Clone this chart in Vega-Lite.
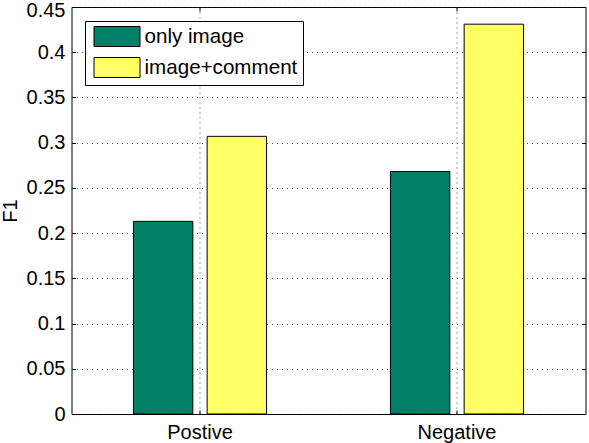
{
  "$schema": "https://vega.github.io/schema/vega-lite/v6.json",
  "width": 514,
  "height": 407,
  "autosize": "none",
  "padding": {"left": 71.5, "top": 7, "right": 3.5, "bottom": 29},
  "background": "white",
  "config": {
    "font": "Liberation Sans",
    "view": {"stroke": "black", "strokeWidth": 1},
    "axis": {
      "domain": false,
      "labelFont": "Liberation Sans",
      "labelFontSize": 20,
      "labelColor": "black",
      "titleFont": "Liberation Sans",
      "titleFontSize": 20,
      "titleFontWeight": "normal",
      "titleColor": "black",
      "tickColor": "black",
      "tickSize": -4,
      "gridColor": "#222",
      "gridDash": [1, 4],
      "gridOpacity": 0.8,
      "gridWidth": 1
    }
  },
  "data": {
    "values": [
      {"group": "Postive", "series": "only image", "F1": 0.213},
      {"group": "Postive", "series": "image+comment", "F1": 0.307},
      {"group": "Negative", "series": "only image", "F1": 0.268},
      {"group": "Negative", "series": "image+comment", "F1": 0.431}
    ]
  },
  "encoding": {
    "x": {
      "field": "group",
      "type": "nominal",
      "sort": ["Postive", "Negative"],
      "scale": {"paddingInner": 0, "paddingOuter": 0}
    },
    "xOffset": {
      "field": "series",
      "type": "nominal",
      "sort": ["only image", "image+comment"],
      "scale": {"paddingInner": 0.194, "paddingOuter": 0.84}
    },
    "y": {
      "field": "F1",
      "type": "quantitative",
      "scale": {"domain": [0, 0.45], "nice": false, "zero": true}
    }
  },
  "layer": [
    {
      "mark": {"type": "bar", "stroke": "black", "strokeWidth": 1},
      "encoding": {
        "x": {
          "field": "group",
          "type": "nominal",
          "sort": ["Postive", "Negative"],
          "axis": {
            "title": null,
            "labelAngle": 0,
            "labelPadding": 12,
            "bandPosition": 0.5,
            "grid": true,
            "ticks": true
          }
        },
        "y": {
          "field": "F1",
          "type": "quantitative",
          "title": "F1",
          "axis": {
            "values": [0, 0.05, 0.1, 0.15, 0.2, 0.25, 0.3, 0.35, 0.4, 0.45],
            "format": "~g",
            "labelPadding": 10.5,
            "labelOffset": {"condition": {"test": "datum.value >= 0.44", "value": 3.5}, "value": 0},
            "titlePadding": 6,
            "grid": true
          }
        },
        "fill": {
          "field": "series",
          "type": "nominal",
          "sort": ["only image", "image+comment"],
          "scale": {"range": ["#008066", "#ffff66"]},
          "legend": {
            "title": null,
            "orient": "none",
            "legendX": 13.5,
            "legendY": 14,
            "direction": "vertical",
            "padding": 5,
            "strokeColor": "black",
            "fillColor": "white",
            "cornerRadius": 0,
            "labelFont": "Liberation Sans",
            "labelFontSize": 20.6,
            "labelColor": "black",
            "labelLimit": 400,
            "labelOffset": 17,
            "symbolType": "M-2.3,-1L2.3,-1L2.3,1L-2.3,1Z",
            "symbolSize": 400,
            "symbolOffset": 16.5,
            "symbolStrokeColor": "black",
            "symbolStrokeWidth": 1,
            "symbolOpacity": 1,
            "rowPadding": 6
          }
        }
      }
    },
    {
      "mark": {"type": "bar", "opacity": 0},
      "encoding": {
        "x": {
          "field": "group",
          "type": "nominal",
          "sort": ["Postive", "Negative"],
          "axis": {
            "orient": "top",
            "title": null,
            "labels": false,
            "grid": false,
            "bandPosition": 0.5
          }
        },
        "y": {
          "field": "F1",
          "type": "quantitative",
          "axis": {
            "orient": "right",
            "title": null,
            "labels": false,
            "grid": false,
            "values": [0, 0.05, 0.1, 0.15, 0.2, 0.25, 0.3, 0.35, 0.4, 0.45]
          }
        }
      }
    }
  ],
  "resolve": {"axis": {"x": "independent", "y": "independent"}}
}
